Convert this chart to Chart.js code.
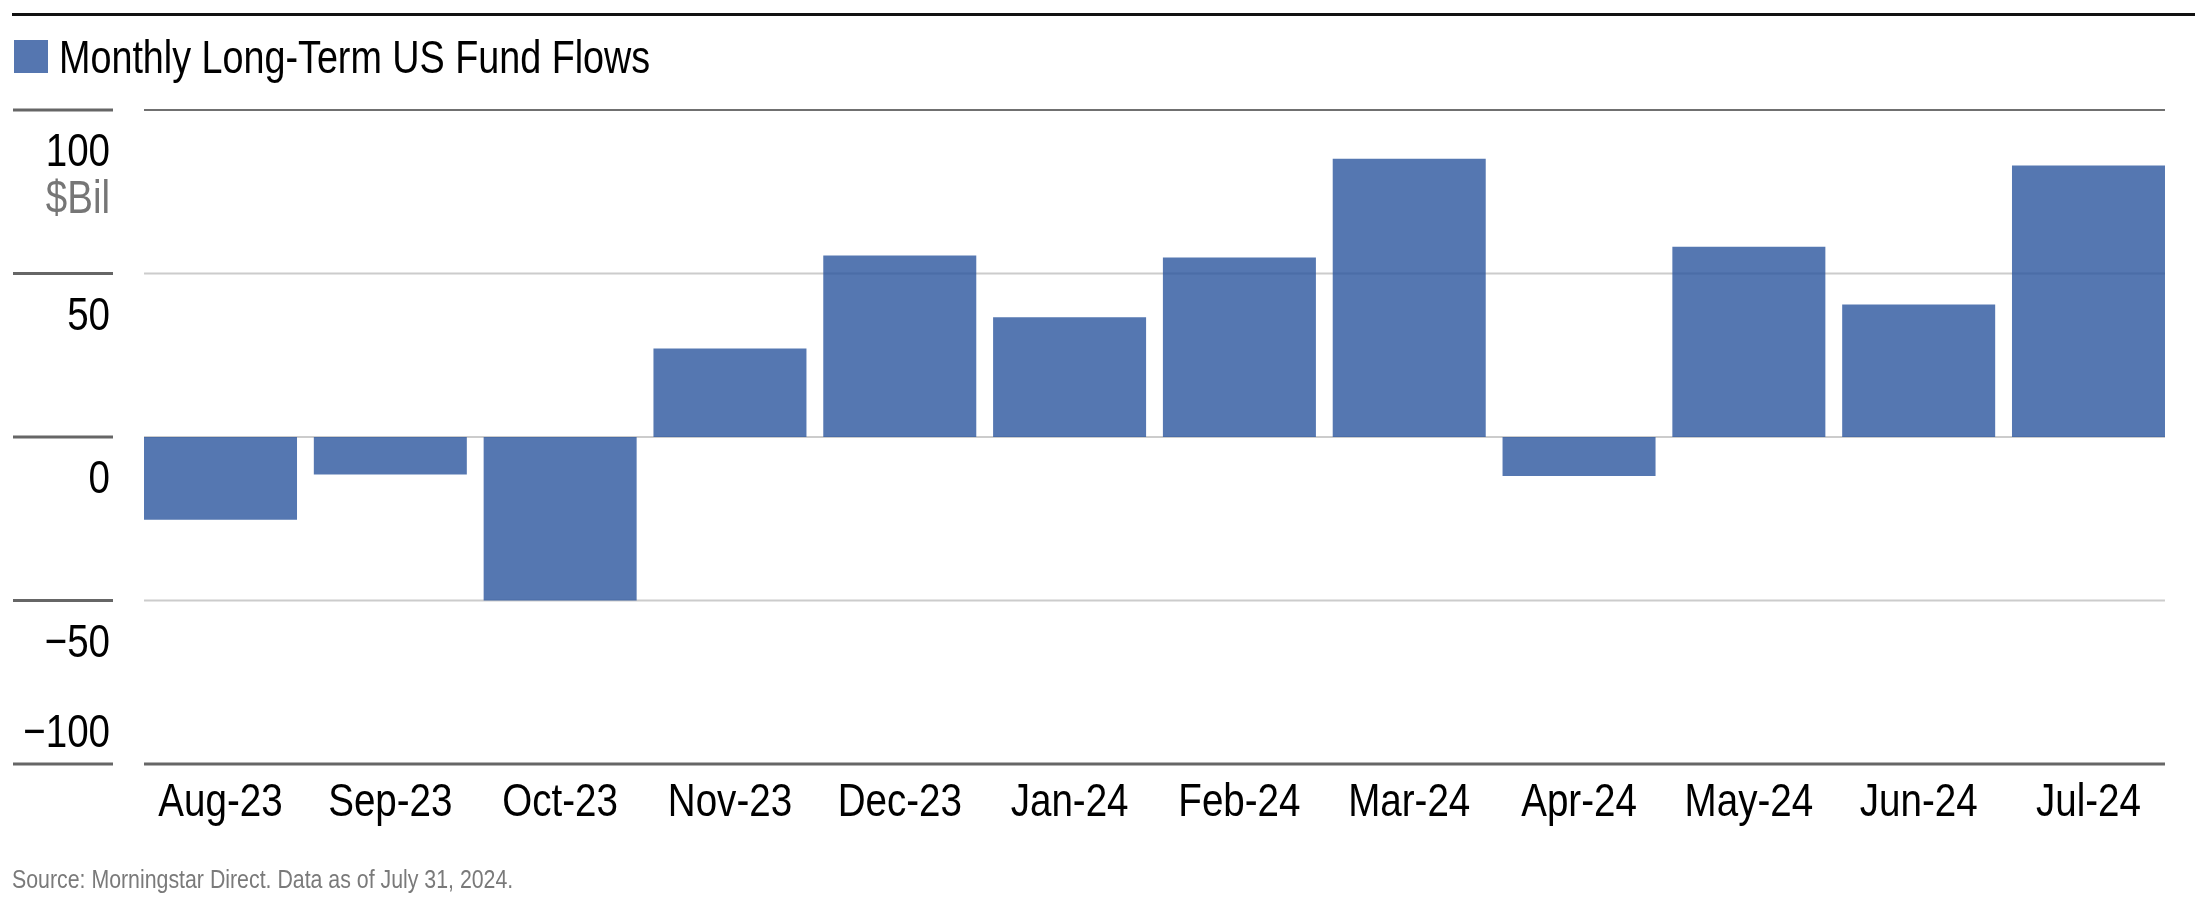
<!DOCTYPE html>
<html>
<head>
<meta charset="utf-8">
<script src="https://cdn.jsdelivr.net/npm/chart.js@4.4.1/dist/chart.umd.min.js"></script>
<style>
  html, body { margin: 0; padding: 0; background: #ffffff; }
  #wrap { width: 2210px; height: 900px; position: relative; }
</style>
</head>
<body>
<div id="wrap"><canvas id="c" width="2210" height="900"></canvas></div>
<script>
// ---- Data ----
const categories = ["Aug-23","Sep-23","Oct-23","Nov-23","Dec-23","Jan-24","Feb-24","Mar-24","Apr-24","May-24","Jun-24","Jul-24"];
const flows = [-25.3, -11.5, -50.0, 27.1, 55.5, 36.6, 54.9, 85.1, -11.9, 58.2, 40.5, 83.0];
const yTicks = [100, 50, 0, -50, -100];
const yTickLabels = ["100", "50", "0", "\u221250", "\u2212100"];
const seriesName = "Monthly Long-Term US Fund Flows";
const unitLabel = "$Bil";
const sourceText = "Source: Morningstar Direct. Data as of July 31, 2024.";

const FONT = "'Liberation Sans', Arial, sans-serif";
const SQUEEZE = 0.82;
const BAR_SOLID = "#5576b0";

function narrowText(ctx, text, x, y, size, color, align) {
  ctx.save();
  ctx.translate(x, y);
  ctx.scale(SQUEEZE, 1);
  ctx.font = size + 'px ' + FONT;
  ctx.fillStyle = color;
  ctx.textAlign = align;
  ctx.textBaseline = 'alphabetic';
  ctx.fillText(text, 0, 0);
  ctx.restore();
}

const decor = {
  id: 'decor',
  beforeDatasetsDraw(chart) {
    const ctx = chart.ctx;
    const y = chart.scales.y;
    const meta = chart.getDatasetMeta(0);
    const first = meta.data[0], last = meta.data[meta.data.length - 1];
    const left = first.x - first.width / 2;
    const right = last.x + last.width / 2;
    ctx.save();
    yTicks.forEach((v, i) => {
      const py = y.getPixelForValue(v);
      ctx.strokeStyle = '#666666';
      ctx.lineWidth = 3;
      ctx.beginPath(); ctx.moveTo(13, py); ctx.lineTo(113, py); ctx.stroke();
      if (i === 0) { ctx.strokeStyle = '#707070'; ctx.lineWidth = 2; }
      else if (i === yTicks.length - 1) { ctx.strokeStyle = '#666666'; ctx.lineWidth = 3; }
      else { ctx.strokeStyle = '#cccccc'; ctx.lineWidth = 2; }
      ctx.beginPath(); ctx.moveTo(left, py); ctx.lineTo(right, py); ctx.stroke();
    });
    ctx.restore();
  },
  afterDraw(chart) {
    const ctx = chart.ctx;
    const y = chart.scales.y;
    const x = chart.scales.x;
    ctx.save();
    ctx.fillStyle = '#111111';
    ctx.fillRect(12, 13, 2183, 3);
    ctx.fillStyle = BAR_SOLID;
    ctx.fillRect(14, 40, 34, 33);
    ctx.restore();
    narrowText(ctx, seriesName, 59, 73, 46, '#000000', 'left');
    yTicks.forEach((v, i) => {
      const py = y.getPixelForValue(v);
      const by = (i === yTicks.length - 1) ? py - 17 : py + 56;
      narrowText(ctx, yTickLabels[i], 110, by, 47, '#000000', 'right');
    });
    narrowText(ctx, unitLabel, 110, 213, 47, '#767676', 'right');
    categories.forEach((c, i) => {
      narrowText(ctx, c, x.getPixelForValue(i), 816, 47, '#000000', 'center');
    });
    narrowText(ctx, sourceText, 12, 888, 26, '#7a7a7a', 'left');
  }
};

new Chart(document.getElementById('c'), {
  type: 'bar',
  data: {
    labels: categories,
    datasets: [{
      label: seriesName,
      data: flows,
      backgroundColor: 'rgba(42,85,157,0.8)',
      borderWidth: 0,
      categoryPercentage: 1.0,
      barPercentage: 0.901
    }]
  },
  options: {
    responsive: false,
    animation: false,
    devicePixelRatio: 1,
    layout: { padding: { left: 135.6, right: 36.6, top: 110, bottom: 136 } },
    plugins: { legend: { display: false }, tooltip: { enabled: false }, title: { display: false } },
    scales: {
      x: { display: false, type: 'category' },
      y: { display: false, min: -100, max: 100 }
    }
  },
  plugins: [decor]
});
</script>
</body>
</html>
